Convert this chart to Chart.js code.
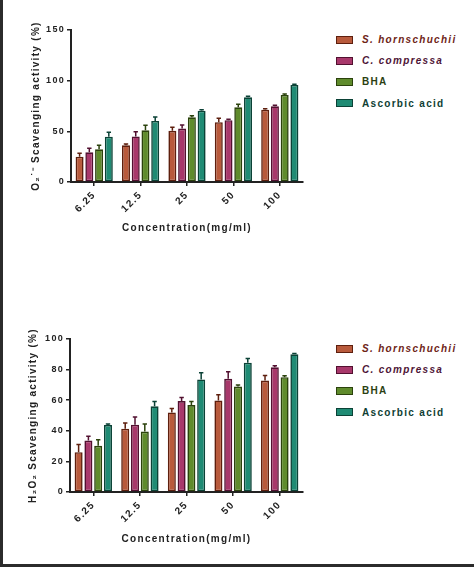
<!DOCTYPE html>
<html>
<head>
<meta charset="utf-8">
<script src="https://cdn.jsdelivr.net/npm/chart.js@4.4.1/dist/chart.umd.min.js"></script>
<style>
  html, body { margin:0; padding:0; background:#fff; }
  #page { position:absolute; left:0; top:0; width:474px; height:567px; box-sizing:border-box;
          border-left:3px solid #2b2b2b; border-bottom:3px solid #2b2b2b; overflow:hidden; }
  .cv { position:absolute; left:0; }
  .legend { position:absolute; left:333px; font-family:"Liberation Sans", Arial, sans-serif;
            font-weight:bold; font-size:10px; letter-spacing:1.3px; }
  .row { position:absolute; left:0; height:12px; line-height:12px; white-space:nowrap; }
  .box { position:absolute; left:0; top:1.5px; width:15px; height:6px; border:1.5px solid; }
  .lbl { position:absolute; left:26px; top:0; }
</style>
</head>
<body>
<div id="page">
  <canvas id="c1" class="cv" width="310" height="250" style="top:0px"></canvas>
  <canvas id="c2" class="cv" width="310" height="250" style="top:300px"></canvas>
  <div id="leg1" class="legend" style="top:34px"></div>
  <div id="leg2" class="legend" style="top:343px"></div>
</div>
<script>
// ---- data ----
const categories = ['6.25', '12.5', '25', '50', '100'];
const seriesNames = ['S. hornschuchii', 'C. compressa', 'BHA', 'Ascorbic acid'];
const italicNames = [true, true, false, false];

// O2 scavenging (%)
const o2_S   = [25, 36.2, 50.5, 59, 71.3];
const o2_C   = [29.3, 45, 52.7, 61, 74.7];
const o2_BHA = [32.2, 51, 63.8, 73.7, 85.9];
const o2_AA  = [44.7, 60.2, 70.4, 83.6, 95.7];
const o2_S_err   = [3.3, 1.3, 3.5, 4, 1];
const o2_C_err   = [4, 4.6, 3.6, 1, 1];
const o2_BHA_err = [4, 5, 1.6, 3, 1];
const o2_AA_err  = [4.3, 4, 0.8, 1, 0.8];

// H2O2 scavenging (%)
const h2o2_S   = [26, 41.4, 52, 59.8, 72.8];
const h2o2_C   = [33.6, 44, 59.4, 74, 81.5];
const h2o2_BHA = [30.2, 39.5, 56.8, 68.9, 75];
const h2o2_AA  = [43.8, 56, 73.6, 84.5, 90];
const h2o2_S_err   = [5, 3.7, 2.6, 3.7, 3.3];
const h2o2_C_err   = [2.8, 5, 2.4, 4.6, 1];
const h2o2_BHA_err = [3.9, 5, 2.4, 1, 1];
const h2o2_AA_err  = [0.7, 3.2, 4.4, 2.8, 0.5];

const o2Ticks = [0, 50, 100, 150];
const h2o2Ticks = [0, 20, 40, 60, 80, 100];

// ---- styles ----
const fills   = ['#b85a3c', '#a8386b', '#5f8b2c', '#1f8b74'];
const borders = ['#5e1f0e', '#521030', '#2b420c', '#0b4236'];
const textCols = ['#6e2416', '#4e1536', '#2b3f12', '#0e3e33'];
const FONT = '"Liberation Sans", Arial, sans-serif';

const spacingPlugin = {
  id: 'spacing',
  beforeLayout(chart) { chart.ctx.letterSpacing = '1.3px'; },
  beforeDraw(chart) { chart.ctx.letterSpacing = '1.3px'; }
};

const errorBars = {
  id: 'errorBars',
  afterDatasetsDraw(chart) {
    const ctx = chart.ctx, y = chart.scales.y;
    chart.data.datasets.forEach((ds, i) => {
      const meta = chart.getDatasetMeta(i);
      meta.data.forEach((bar, j) => {
        const yTop = y.getPixelForValue(ds.data[j] + ds.errors[j]);
        const cap = 2.2;
        ctx.save();
        ctx.strokeStyle = ds.borderColor;
        ctx.lineWidth = 1.5;
        ctx.beginPath();
        ctx.moveTo(bar.x, bar.y);
        ctx.lineTo(bar.x, yTop);
        ctx.moveTo(bar.x - cap, yTop);
        ctx.lineTo(bar.x + cap, yTop);
        ctx.stroke();
        ctx.restore();
      });
    });
  }
};

function makeChart(id, values, errors, ticks, yTitle, cfg) {
  const datasets = values.map((v, i) => ({
    label: seriesNames[i],
    data: v,
    errors: errors[i],
    backgroundColor: fills[i],
    borderColor: borders[i],
    borderWidth: 1.6,
    borderSkipped: false,
    barPercentage: 0.82,
    categoryPercentage: 0.84
  }));
  return new Chart(document.getElementById(id), {
    type: 'bar',
    data: { labels: categories, datasets },
    plugins: [spacingPlugin, errorBars],
    options: {
      responsive: false,
      animation: false,
      layout: { padding: { top: cfg.top, right: 10, left: 0, bottom: 0 } },
      plugins: { legend: { display: false }, tooltip: { enabled: false } },
      scales: {
        x: {
          grid: { display: true, drawOnChartArea: false, offset: false, tickLength: 4, color: '#222', lineWidth: 1.5 },
          border: { display: true, color: '#222', width: 2 },
          ticks: { minRotation: 45, maxRotation: 45, padding: 3, color: '#222',
                   font: { family: FONT, size: 10, weight: 'bold' } },
          title: { display: true, text: 'Concentration(mg/ml)', color: '#222',
                   font: { family: FONT, size: 10, weight: 'bold' }, padding: { top: 0, bottom: cfg.xTitleBottom } },
          afterFit(s) { s.height = cfg.xHeight; }
        },
        y: {
          min: 0, max: ticks[ticks.length - 1],
          afterBuildTicks(s) { s.ticks = ticks.map(v => ({ value: v })); },
          grid: { display: true, drawOnChartArea: false, tickLength: 4, color: '#222', lineWidth: 1.5 },
          border: { display: true, color: '#222', width: 2 },
          ticks: { padding: 2, color: '#222', font: { family: FONT, size: 9, weight: 'bold' } },
          title: { display: true, text: yTitle, color: '#222',
                   font: { family: FONT, size: 10, weight: 'bold' }, padding: { top: cfg.yTitleTop, bottom: 0 } },
          afterFit(s) { s.width = cfg.yWidth; }
        }
      }
    }
  });
}

makeChart('c1', [o2_S, o2_C, o2_BHA, o2_AA], [o2_S_err, o2_C_err, o2_BHA_err, o2_AA_err], o2Ticks,
  'O₂˙⁻ Scavenging activity (%)', { top: 30, xHeight: 68, xTitleBottom: 16, yWidth: 68, yTitleTop: 27 });
makeChart('c2', [h2o2_S, h2o2_C, h2o2_BHA, h2o2_AA], [h2o2_S_err, h2o2_C_err, h2o2_BHA_err, h2o2_AA_err], h2o2Ticks,
  'H₂O₂ Scavenging activity (%)', { top: 39, xHeight: 58, xTitleBottom: 5, yWidth: 67, yTitleTop: 24 });

function buildLegend(id) {
  const el = document.getElementById(id);
  seriesNames.forEach((name, i) => {
    const row = document.createElement('div');
    row.className = 'row';
    row.style.top = (i * 21.2) + 'px';
    const box = document.createElement('div');
    box.className = 'box';
    box.style.background = fills[i];
    box.style.borderColor = borders[i];
    const lbl = document.createElement('div');
    lbl.className = 'lbl';
    lbl.textContent = name;
    lbl.style.color = textCols[i];
    if (italicNames[i]) lbl.style.fontStyle = 'italic';
    row.appendChild(box); row.appendChild(lbl);
    el.appendChild(row);
  });
}
buildLegend('leg1');
buildLegend('leg2');
</script>
</body>
</html>
